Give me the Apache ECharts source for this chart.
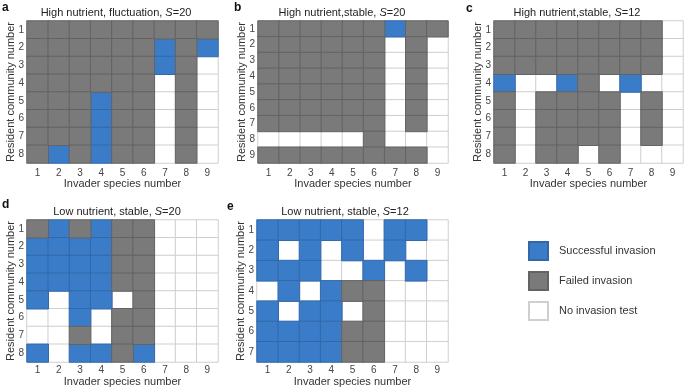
<!DOCTYPE html>
<html>
<head>
<meta charset="utf-8">
<script src="https://cdn.jsdelivr.net/npm/echarts@6/dist/echarts.min.js"></script>
<style>
html,body{margin:0;padding:0;background:#fff}
#main{width:685px;height:392px}
</style>
</head>
<body>
<div id="main"></div>
<script>
// 1 = successful invasion, 2 = failed invasion, 0 = no invasion test
// each string is one resident community (row), each char one invader species (column)
var panelA = ["222222222","222222121","222222120","222222020","222122020","222122020","222122020","212122020"];
var panelB = ["222222122","222222020","222222020","222222020","222222020","222222020","222222020","000002000","222222220"];
var panelC = ["222222220","222222220","222222220","100120100","202222020","202222020","202222020","202202000"];
var panelD = ["212122000","111122000","111122000","111122000","101102000","001022000","002022000","101121000"];
var panelE = ["111110110","101010100","111001010","010122000","101102000","111122000","111122000"];

var invaders = ["1","2","3","4","5","6","7","8","9"];
var legendNames = ["No invasion test","Successful invasion","Failed invasion"];
var letters = ["a","b","c","d","e"];
var titles = ["High nutrient, fluctuation, {i|S}=20","High nutrient,stable, {i|S}=20","High nutrient,stable, {i|S}=12","Low nutrient, stable, {i|S}=20","Low nutrient, stable, {i|S}=12"];

var panels = [panelA, panelB, panelC, panelD, panelE];
var FONT = "Liberation Sans, Arial, sans-serif";
var fill = ["#ffffff","#3b7cc8","#7a7a7a"];
var edge = ["#cfcfcf","#3368a8","#636363"];

var grids = [
  {left:27, top:21, width:191, height:142},
  {left:258, top:21, width:190, height:142},
  {left:494, top:21, width:189, height:142},
  {left:27, top:220, width:191, height:142},
  {left:257, top:220, width:191, height:142}
];
var titlePos = [[116,7],[342,7],[577,7],[117,206],[345,206]];
var letterPos = [[2,2],[234,2],[466,3],[2,199],[227,201]];
var bottomRow = [false,false,false,true,true];

var myChart = echarts.init(document.getElementById('main'));
var option = {
  backgroundColor: '#fff',
  animation: false,
  title: [],
  grid: [],
  xAxis: [],
  yAxis: [],
  legend: {
    orient: 'vertical',
    left: 523, top: 236,
    itemWidth: 19, itemHeight: 18, itemGap: 10,
    icon: 'rect',
    data: ["Successful invasion","Failed invasion","No invasion test"],
    textStyle: {fontFamily: FONT, fontSize: 11, color: '#333', padding: [0,0,0,6]},
    selectedMode: false
  },
  series: []
};

for (var p = 0; p < panels.length; p++) {
  var rows = panels[p];
  var residents = [];
  for (var r = 0; r < rows.length; r++) residents.push(String(r + 1));
  option.grid.push(grids[p]);
  option.title.push({
    text: titles[p], left: titlePos[p][0], top: titlePos[p][1], textAlign: 'center', padding: 0,
    textStyle: {fontFamily: FONT, fontSize: 11, fontWeight: 'normal', color: '#222',
      rich: {i: {fontFamily: FONT, fontSize: 11, fontStyle: 'italic', color: '#222'}}}
  });
  option.title.push({
    text: letters[p], left: letterPos[p][0], top: letterPos[p][1], padding: 0,
    textStyle: {fontFamily: FONT, fontSize: 12, fontWeight: 'bold', color: '#111'}
  });
  option.xAxis.push({
    type: 'category', gridIndex: p, data: invaders,
    name: 'Invader species number', nameLocation: 'middle',
    nameGap: bottomRow[p] ? 14 : 15, nameMoveOverlap: false,
    nameTextStyle: {fontFamily: FONT, fontSize: 11, color: '#333'},
    axisLine: {show: false}, axisTick: {show: false}, splitLine: {show: false},
    axisLabel: {fontFamily: FONT, fontSize: 10, color: '#444', margin: bottomRow[p] ? 3 : 5}
  });
  option.yAxis.push({
    type: 'category', gridIndex: p, data: residents, inverse: true,
    name: 'Resident community number',
    nameLocation: 'middle', nameGap: 11, nameMoveOverlap: false,
    nameTextStyle: {fontFamily: FONT, fontSize: 11, color: '#333'},
    axisLine: {show: false}, axisTick: {show: false}, splitLine: {show: false},
    axisLabel: {fontFamily: FONT, fontSize: 10, color: '#444', margin: 3}
  });
  for (var k = 0; k < 3; k++) {
    var data = [];
    for (var r2 = 0; r2 < rows.length; r2++) {
      for (var c = 0; c < rows[r2].length; c++) {
        if (Number(rows[r2][c]) === k) data.push([c, r2, k]);
      }
    }
    option.series.push({
      type: 'heatmap', name: legendNames[k],
      xAxisIndex: p, yAxisIndex: p,
      data: data,
      itemStyle: {color: fill[k], borderColor: edge[k], borderWidth: 1},
      emphasis: {disabled: true},
      label: {show: false}
    });
  }
}

myChart.setOption(option);
</script>
</body>
</html>
